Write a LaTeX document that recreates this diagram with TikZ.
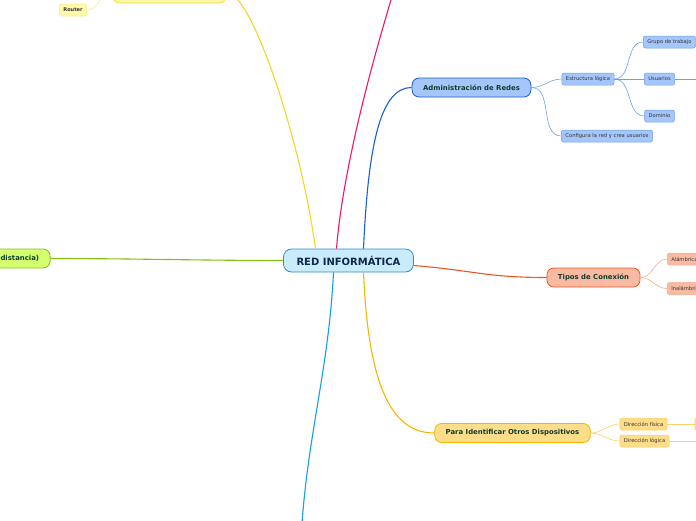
\documentclass[tikz,border=0pt]{standalone}
\usepackage{fontspec}
\setmainfont{DejaVu Sans}
\usepackage{tikz}
\usetikzlibrary{calc,positioning,shapes}

\definecolor{redtext}{HTML}{10264A}
\definecolor{topictext}{HTML}{0E3D2C}
\definecolor{subtext}{HTML}{333333}
\definecolor{redfill}{HTML}{C8ECFC}
\definecolor{reddraw}{HTML}{2C8ACF}
\definecolor{admfill}{HTML}{A4C6FB}
\definecolor{admdraw}{HTML}{1A5ED0}
\definecolor{admsub}{HTML}{6E9FEE}
\definecolor{conxfill}{HTML}{F9BAA4}
\definecolor{conxdraw}{HTML}{F05424}
\definecolor{conxsub}{HTML}{F6A88E}
\definecolor{parafill}{HTML}{FDDC8A}
\definecolor{paradraw}{HTML}{F8B400}
\definecolor{parasub}{HTML}{FAD06A}
\definecolor{distfill}{HTML}{D4FF6E}
\definecolor{distdraw}{HTML}{84C012}
\definecolor{hwfill}{HTML}{FFF9A8}
\definecolor{hwdraw}{HTML}{F2DE2C}
\definecolor{hwsub}{HTML}{F4E98A}
\definecolor{pinkline}{HTML}{EE1470}
\definecolor{cyanline}{HTML}{14A0E6}

\begin{document}
\begin{tikzpicture}[x=1pt,y=-1pt,
        main/.style={draw=reddraw, fill=redfill, text=redtext, rounded corners=8pt, line width=0.8pt,
            inner xsep=13pt, minimum height=23pt, font=\bfseries\fontsize{10}{12}\selectfont},
        topic/.style={rounded corners=7pt, line width=0.8pt, inner xsep=11pt, minimum height=19pt,
            text=topictext, font=\bfseries\fontsize{6.9}{8}\selectfont},
        sub/.style={rounded corners=2pt, line width=0.5pt, inner xsep=4pt, minimum height=12pt,
            text=subtext, font=\fontsize{5.2}{6}\selectfont},
        branch/.style={line width=1.1pt},
        twig/.style={line width=0.6pt}]
        \useasboundingbox (0,0) rectangle (696,520);

        % nodes
        \node[main] (red) at (348.5,260.5) {RED INFORMÁTICA};

        \node[topic, draw=admdraw, fill=admfill] (adm) at (471.5,87.5) {Administración de Redes};
        \node[sub, draw=admsub, fill=admfill] (estr) at (588,79) {Estructura lógica};
        \node[sub, draw=admsub, fill=admfill, anchor=west] (grupo) at (643,42) {Grupo de trabajo};
        \node[sub, draw=admsub, fill=admfill] (usu) at (659.5,79) {Usuarios};
        \node[sub, draw=admsub, fill=admfill] (dom) at (659.5,116) {Dominio};
        \node[sub, draw=admsub, fill=admfill] (conf) at (607,136) {Configura la red y crea usuarios};
        \coordinate (usuend) at (700,79);

        \node[topic, draw=conxdraw, fill=conxfill] (conx) at (593.5,277.5) {Tipos de Conexión};
        \node[sub, draw=conxsub, fill=conxfill, anchor=west] (alam) at (667,259) {Alámbrica};
        \node[sub, draw=conxsub, fill=conxfill, anchor=west] (inal) at (667,288.5) {Inalámbrica};

        \node[topic, draw=paradraw, fill=parafill] (para) at (512.5,433) {Para Identificar Otros Dispositivos};
        \node[sub, draw=parasub, fill=parafill] (fis) at (643.5,424) {Dirección física};
        \node[sub, draw=parasub, fill=parafill] (log) at (644.5,441) {Dirección lógica};
        \node[sub, draw=parasub, fill=parafill, anchor=west, minimum width=30pt] (fisnext) at (694.5,424) {};
        \coordinate (logend) at (700,441);

        \node[topic, draw=distdraw, fill=distfill, anchor=east, text width=100pt, align=right] (dist) at (50.5,258.5) {(distancia)};

        \node[topic, draw=hwdraw, fill=hwfill, minimum width=113pt, minimum height=22pt] (hw) at (169.5,-8) {};
        \node[sub, draw=hwsub, fill=hwfill, font=\bfseries\fontsize{5}{6}\selectfont] (router) at (73,10) {Router};

        \coordinate (pinkend) at (400,-30);
        \coordinate (cyanend) at (301,540);

        % main branches
        \draw[branch, distdraw] (red.west) .. controls +(-80,0) and +(80,0) .. (dist.east);
        \draw[branch, hwdraw!90!orange] ($(red.north)+(-33,0)$) .. controls +(-15,-110) and +(25,0) .. (hw.east);
        \draw[branch, pinkline] ($(red.north)+(-12,0)$) .. controls +(8,-100) and +(-12,40) .. (pinkend);
        \draw[branch, admdraw] ($(red.north)+(15,0)$) .. controls +(5,-110) and +(-30,0) .. (adm.west);
        \draw[branch, conxdraw] ($(red.east)+(0,5)$) .. controls +(60,5) and +(-60,0) .. (conx.west);
        \draw[branch, paradraw] ($(red.south)+(15,0)$) .. controls +(5,120) and +(-40,0) .. (para.west);
        \draw[branch, cyanline] ($(red.south)+(-15,0)$) .. controls +(-5,100) and +(5,-100) .. (cyanend);

        % sub branches
        \draw[twig, admsub] (adm.east) to[out=0,in=180] (estr.west);
        \draw[twig, admsub] (adm.east) to[out=0,in=180] (conf.west);
        \draw[twig, admsub] (estr.east) to[out=0,in=180] (grupo.west);
        \draw[twig, admsub] (estr.east) -- (usu.west);
        \draw[twig, admsub] (estr.east) to[out=0,in=180] (dom.west);
        \draw[twig, admsub] (usu.east) -- (usuend);

        \draw[twig, conxsub] (conx.east) to[out=0,in=180] (alam.west);
        \draw[twig, conxsub] (conx.east) to[out=0,in=180] (inal.west);

        \draw[twig, parasub] (para.east) to[out=0,in=180] (fis.west);
        \draw[twig, parasub] (para.east) to[out=0,in=180] (log.west);
        \draw[twig, parasub] (fis.east) -- (fisnext.west);
        \draw[twig, parasub] (log.east) -- (logend);

        \draw[twig, hwsub] (router.east) to[out=0,in=180] (hw.west);
\end{tikzpicture}
\end{document}
